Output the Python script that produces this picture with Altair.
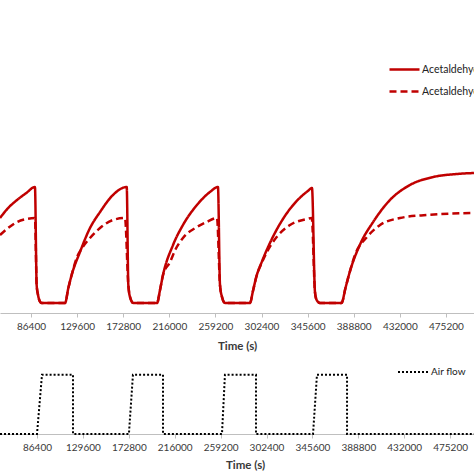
import altair as alt
import pandas as pd

# Acetaldehyde concentration (two series) over time, in seconds
solid_t = [57350, 65000, 73300, 82000, 90100,
           91700, 93000, 94500, 96400, 118300,
           121400, 124500, 132300, 141700, 151100, 163200, 176100,
           177600, 179200, 182300, 204500,
           207300, 210100, 219500, 228800, 241900, 254100, 261600,
           263500, 265400, 268200, 291600,
           294400, 297500, 303000, 310300, 322500, 335400, 345800, 349700,
           352500, 354100, 357200, 377400,
           381100, 385100, 394500, 407000, 422800, 441500, 463400, 485300, 501500]
solid_c = [0.475, 0.525, 0.565, 0.60, 0.63,
           0.14, 0.09, 0.06, 0.05, 0.05,
           0.125, 0.19, 0.305, 0.425, 0.505, 0.59, 0.63,
           0.14, 0.08, 0.05, 0.05,
           0.115, 0.19, 0.34, 0.44, 0.54, 0.605, 0.63,
           0.14, 0.08, 0.05, 0.05,
           0.11, 0.18, 0.26, 0.35, 0.47, 0.56, 0.61, 0.625,
           0.105, 0.065, 0.05, 0.05,
           0.125, 0.205, 0.34, 0.455, 0.565, 0.64, 0.68, 0.695, 0.70]

dash_t = [57350, 65000, 73300, 82000, 90100,
          91700, 93000, 94500, 96400, 118300,
          121400, 124500, 129200, 135000, 141700, 151100, 163200, 174500,
          177600, 179200, 182300, 204500,
          207300, 210100, 216700, 222000, 228800, 241900, 251000, 260700,
          263500, 265400, 268200, 291600,
          294400, 297500, 303000, 307000, 316600, 329100, 344700, 349500,
          352500, 354100, 357200, 377400,
          381100, 385100, 390000, 401300, 413500, 432200, 457500, 480000, 501500]
dash_c = [0.39, 0.425, 0.455, 0.47, 0.475,
          0.14, 0.09, 0.06, 0.05, 0.05,
          0.125, 0.19, 0.275, 0.33, 0.375, 0.425, 0.465, 0.475,
          0.14, 0.08, 0.05, 0.05,
          0.115, 0.19, 0.255, 0.32, 0.375, 0.43, 0.455, 0.475,
          0.14, 0.08, 0.05, 0.05,
          0.11, 0.18, 0.255, 0.30, 0.38, 0.44, 0.47, 0.475,
          0.105, 0.065, 0.05, 0.05,
          0.125, 0.205, 0.29, 0.38, 0.44, 0.475, 0.49, 0.497, 0.50]

# Air flow on/off schedule
air_t = [51576, 86400, 91100, 120300, 120300, 172900, 176700, 205000, 205000,
         260500, 263300, 292500, 292500, 346200, 349900, 378200, 378200, 497700]
air_v = [0, 0, 1, 1, 0, 0, 1, 1, 0, 0, 1, 1, 0, 0, 1, 1, 0, 0]

series_names = ["Acetaldehyde gas phase", "Acetaldehyde adsorbed phase"]
top_ticks = [86400, 129600, 172800, 216000, 259200, 302400, 345600, 388800, 432000, 475200]
bottom_ticks = [43200, 86400, 129600, 172800, 216000, 259200, 302400, 345600, 388800, 432000, 475200]

rows = []
for i, (t, c) in enumerate(zip(solid_t, solid_c)):
    rows.append({"t": t, "c": c, "series": series_names[0], "i": i})
for i, (t, c) in enumerate(zip(dash_t, dash_c)):
    rows.append({"t": t, "c": c, "series": series_names[1], "i": i})
df_top = pd.DataFrame(rows)
df_air = pd.DataFrame({"t": air_t, "v": air_v, "series": "Air flow",
                       "i": list(range(len(air_t)))})

FONT = "Lato"
TXT = "#3a3a3a"
AX = "#bfbfbf"
RED = "#C00000"

def time_axis(values, offset, title_pad, title_x=None):
    kw = dict(values=values, orient="bottom", offset=offset, title="Time (s)",
              format="d", labelFlush=False, labelOverlap=False, grid=False,
              domainColor=AX, tickColor=AX, tickSize=4, labelPadding=4,
              labelFont=FONT, labelFontSize=10, labelColor=TXT,
              titleFont=FONT, titleFontSize=11.5, titleFontWeight="bold",
              titleColor=TXT, titlePadding=title_pad)
    if title_x is not None:
        kw["titleX"] = title_x
    return alt.Axis(**kw)

top = alt.Chart(df_top).mark_line(color=RED, strokeWidth=2.5, clip=True,
                                  interpolate="monotone").encode(
    x=alt.X("t:Q", scale=alt.Scale(domain=[57350, 501530], nice=False, zero=False),
            axis=time_axis(top_ticks, -161, 9)),
    y=alt.Y("c:Q", scale=alt.Scale(domain=[0, 1.5], range=[313, 13]), axis=None),
    strokeDash=alt.StrokeDash(
        "series:N",
        scale=alt.Scale(domain=series_names, range=[[1, 0], [7, 4]]),
        legend=alt.Legend(title=None, orient="none", legendX=388, legendY=53,
                          symbolType="stroke", symbolSize=900, symbolStrokeColor=RED,
                          symbolStrokeWidth=2.5, labelFont=FONT, labelFontSize=10.5,
                          labelColor="#222222", labelOffset=1, padding=0, rowPadding=-4,
                          labelLimit=0)),
    order=alt.Order("i:Q"),
)

bottom = alt.Chart(df_air).mark_line(color="black", strokeWidth=2, clip=True).encode(
    x=alt.X("t:Q", scale=alt.Scale(domain=[51576, 497694], nice=False, zero=False),
            axis=time_axis(bottom_ticks, -40, 7, title_x=245)),
    y=alt.Y("v:Q", scale=alt.Scale(domain=[0, 1.25], range=[434, 360]), axis=None),
    strokeDash=alt.StrokeDash(
        "series:N",
        scale=alt.Scale(domain=["Air flow"], range=[[2, 2]]),
        legend=alt.Legend(title=None, orient="none", legendX=397, legendY=356,
                          symbolType="stroke", symbolSize=900, symbolStrokeColor="black",
                          symbolStrokeWidth=2, labelFont=FONT, labelFontSize=10,
                          labelColor="#222222", labelOffset=2, padding=0)),
    order=alt.Order("i:Q"),
)

chart = alt.layer(top, bottom).resolve_scale(
    x="independent", y="independent", strokeDash="independent"
).resolve_axis(x="independent").resolve_legend(strokeDash="independent").properties(
    width=474, height=474, padding=0,
    autosize=alt.AutoSizeParams(type="none"),
).configure_view(stroke=None)

chart.save("out.html", embed_options={"renderer": "svg", "actions": False})
